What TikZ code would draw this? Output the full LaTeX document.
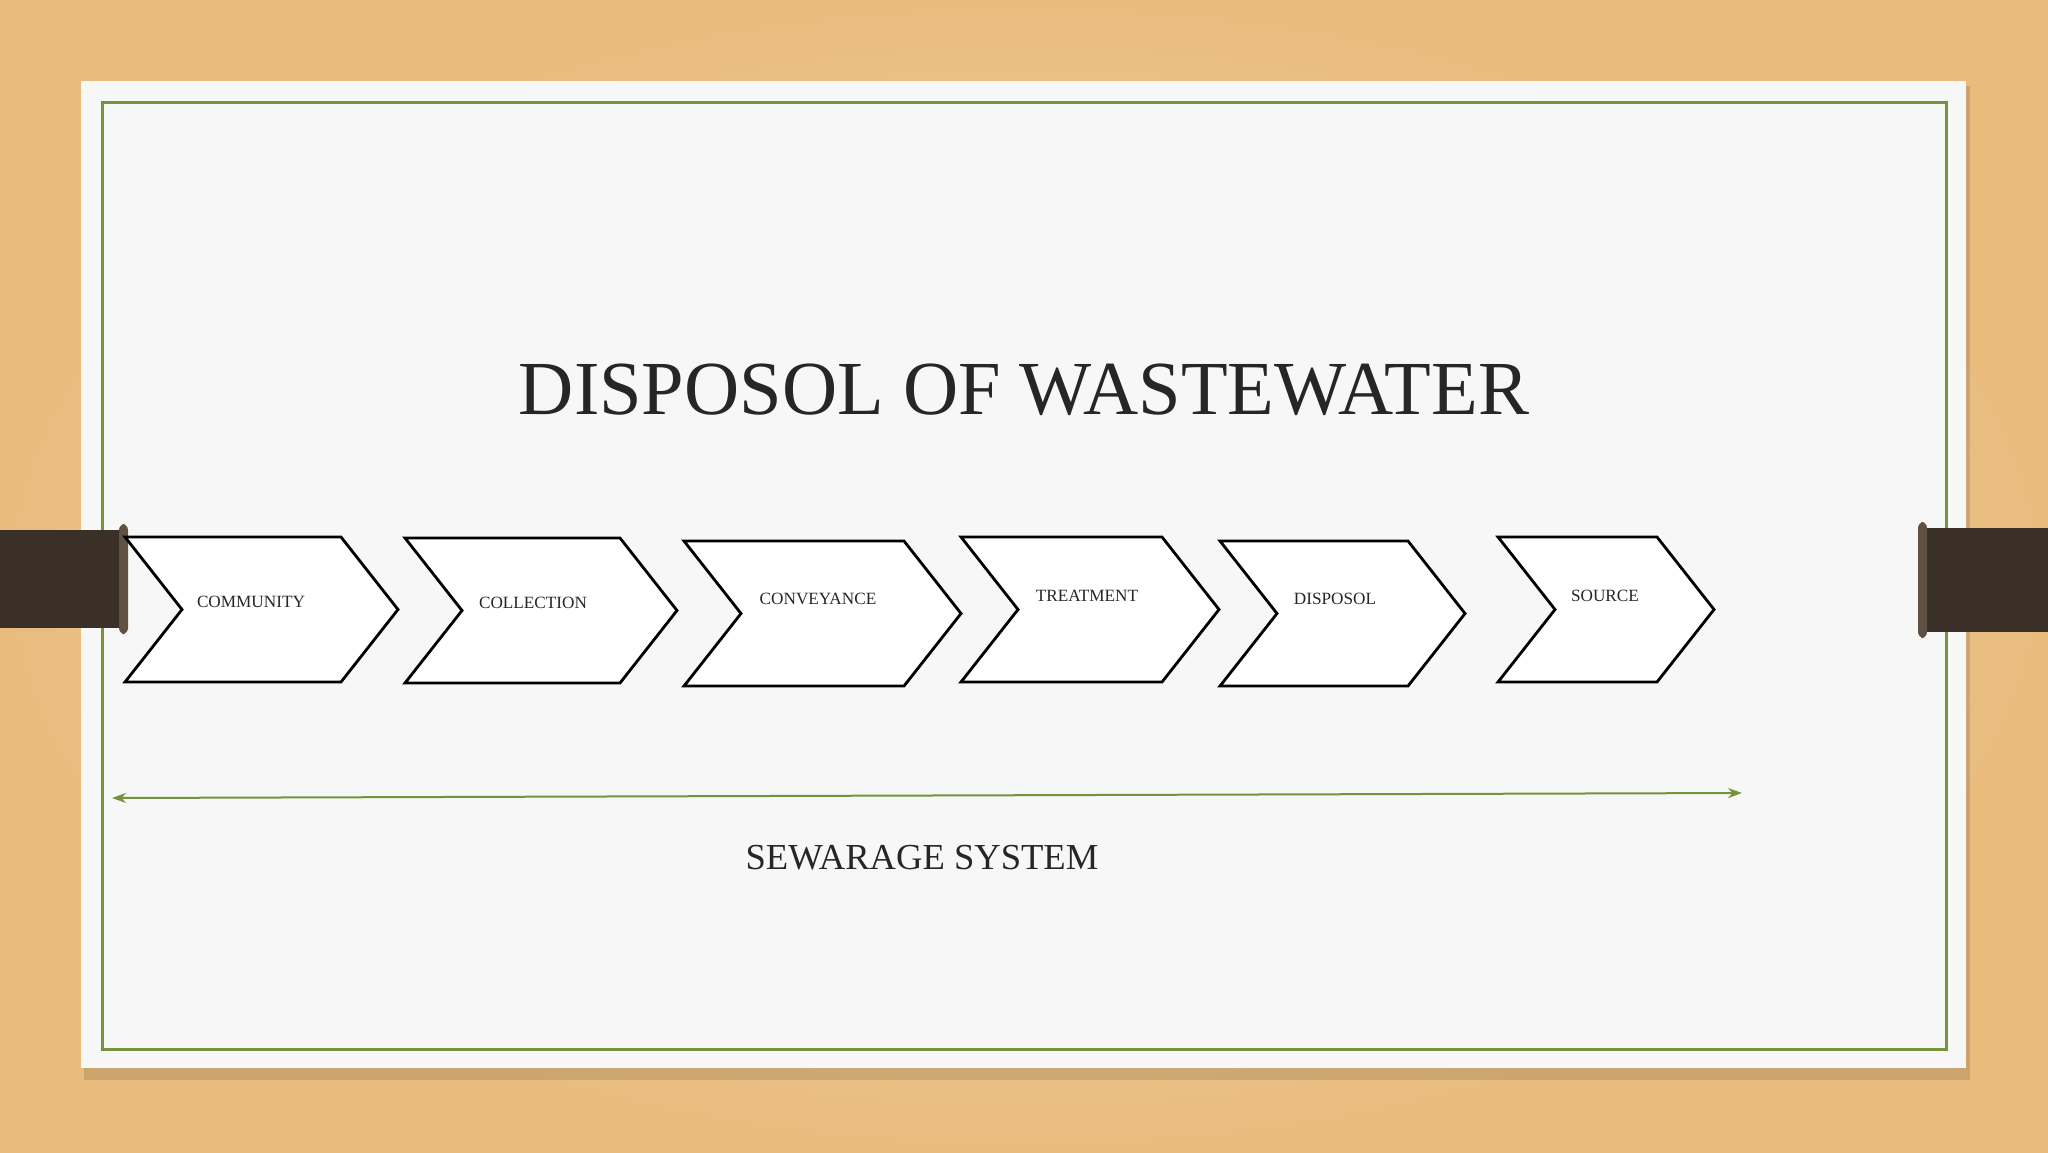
\documentclass[tikz,border=0pt]{standalone}
\usepackage{fontspec}
\setmainfont{Liberation Serif}
\usetikzlibrary{arrows.meta}

\definecolor{wood}{RGB}{243,218,176}
\definecolor{wooddark}{RGB}{233,188,126}
\definecolor{card}{RGB}{247,247,247}
\definecolor{frame}{RGB}{118,146,60}
\definecolor{bar}{RGB}{58,48,40}
\definecolor{barend}{RGB}{96,82,66}
\definecolor{ink}{RGB}{38,38,38}

\tikzset{
  chev/.style={draw=black, line width=1.4pt, fill=white, line join=miter},
  lab/.style={font=\fontsize{8.6}{10}\selectfont, text=ink, inner sep=0pt},
  span/.style={draw=frame, line width=1pt, {Stealth[length=7pt,width=5pt]}-{Stealth[length=7pt,width=5pt]}}
}

\begin{document}
\begin{tikzpicture}[x=0.5pt, y=-0.5pt]
    \useasboundingbox (0,0) rectangle (2048,1152);
    % background and slide
    \shade[inner color=wood, outer color=wooddark] (0,0) rectangle (2048,1152);
    \fill[black, opacity=0.12] (84,86) rectangle (1970,1080);
    \fill[card] (81,81) rectangle (1966,1068);
    \draw[frame, line width=1.5pt] (102,102) rectangle (1946,1049);
    % bars at the sides
    \fill[bar] (0,530) rectangle (125,628);
    \fill[barend, rounded corners=3pt] (119,524) rectangle (128,634);
    \fill[bar] (1922,528) rectangle (2048,632);
    \fill[barend, rounded corners=3pt] (1918,522) rectangle (1927,638);
    % title
    \node[font=\fontsize{38.2}{44}\selectfont, text=ink, inner sep=0pt] (title) at (1024,390) {DISPOSOL OF WASTEWATER};
    % chevrons: left x / top y / width / name / text / text x / text y
    \foreach \x/\y/\w/\nm/\txt/\tx/\ty in {
        125/537/216/comm/COMMUNITY/251/602,
        405/538/215/coll/COLLECTION/533/603,
        684/541/220/conv/CONVEYANCE/818/599,
        961/537/201/treat/TREATMENT/1087/596,
        1220/541/188/disp/DISPOSOL/1335/599,
        1498/537/159/src/SOURCE/1605/596}{
        \draw[chev] (\x,\y) -- ++(\w,0) -- ++(57,72.5) -- ++(-57,72.5) -- ++(-\w,0) -- ++(57,-72.5) -- cycle;
        \node[lab] (\nm) at (\tx,\ty) {\txt};
    }
    % sewerage system span
    \coordinate (spanL) at (112,798);
    \coordinate (spanR) at (1742,793);
    \draw[span] (spanL) -- (spanR);
    \node[font=\fontsize{18.3}{21}\selectfont, text=ink, inner sep=0pt] (sys) at (922,858) {SEWARAGE SYSTEM};
\end{tikzpicture}
\end{document}
